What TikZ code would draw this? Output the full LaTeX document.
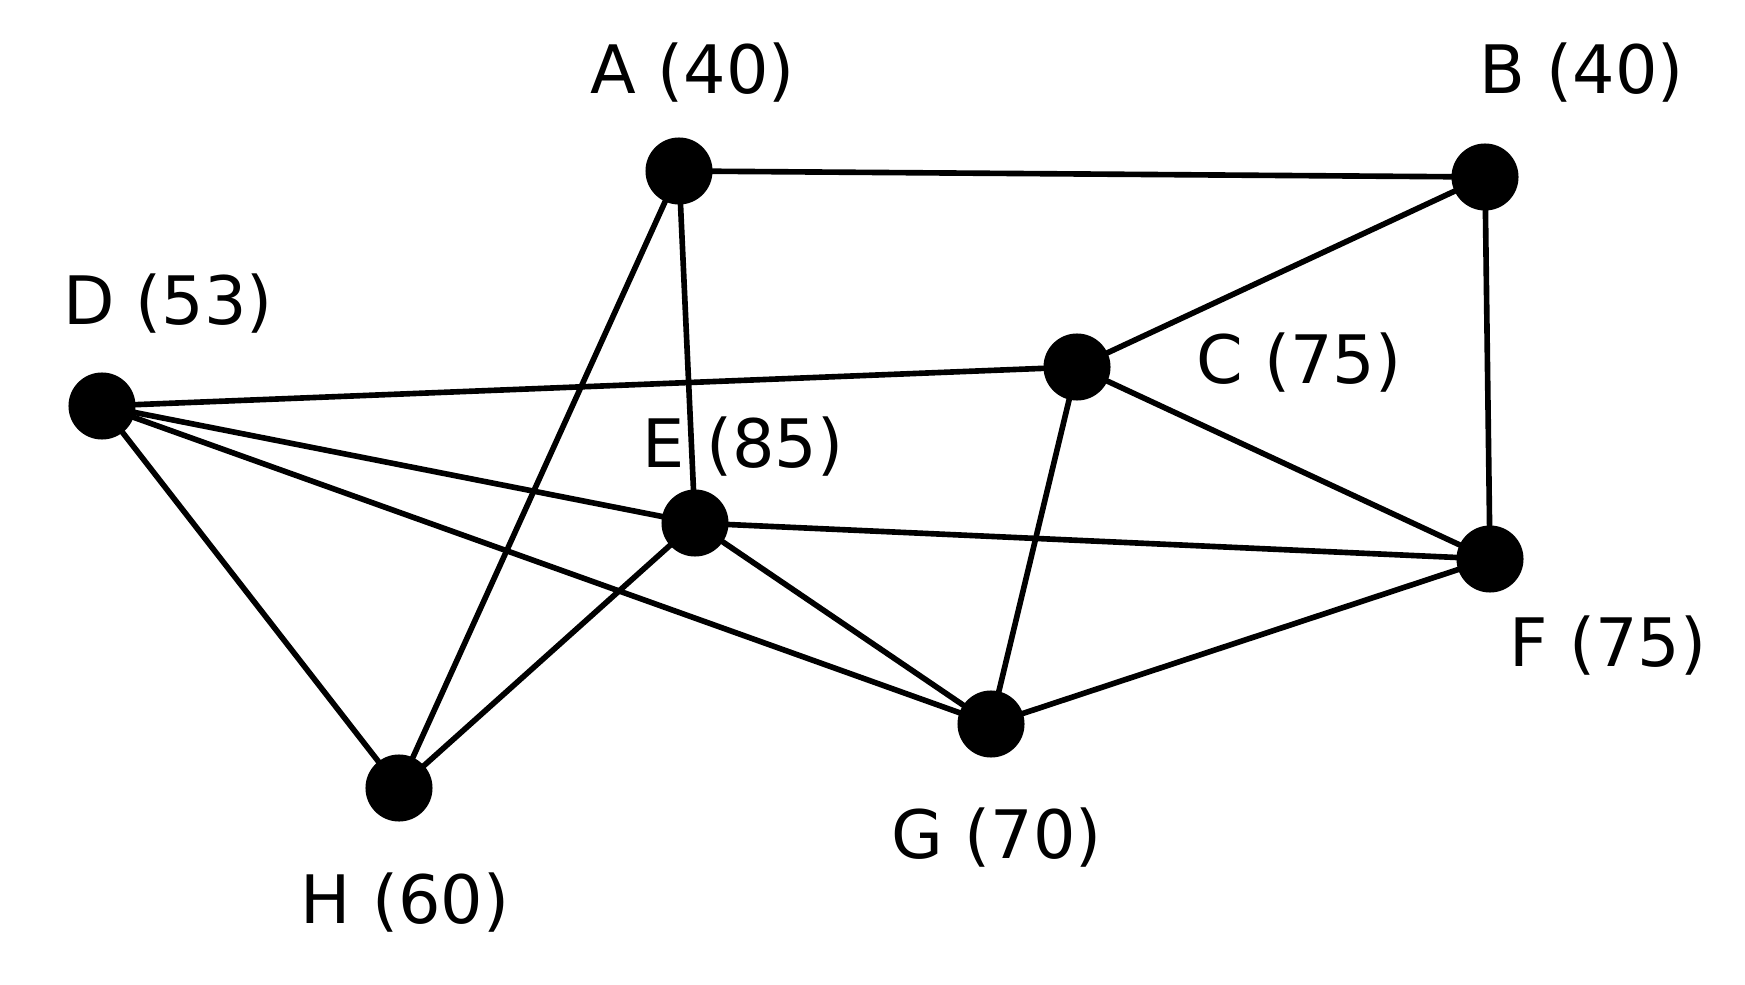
\documentclass[tikz,border=0pt]{standalone}
\usepackage{fontspec}
\setmainfont{DejaVu Sans}
\begin{document}
\begin{tikzpicture}[x=0.01cm,y=-0.01cm,
  vert/.style={circle,fill=black,inner sep=0pt,minimum size=0.67cm},
  lab/.style={font=\fontsize{19}{22}\selectfont},
  edge/.style={line width=1.6pt}]
\useasboundingbox (0,0) rectangle (1745,985);
\node[vert] (A) at (679,171) {};
\node[vert] (B) at (1485,177) {};
\node[vert] (C) at (1077,367) {};
\node[vert] (D) at (102,406) {};
\node[vert] (E) at (695,523) {};
\node[vert] (F) at (1490,559) {};
\node[vert] (G) at (991,724) {};
\node[vert] (H) at (399,788) {};
\node[lab] (la) at (693,73) {A (40)};
\node[lab] (lb) at (1582,73) {B (40)};
\node[lab] (lc) at (1299,363) {C (75)};
\node[lab] (ld) at (168,304) {D (53)};
\node[lab] (le) at (743,447) {E (85)};
\node[lab] (lf) at (1608,646) {F (75)};
\node[lab] (lg) at (997,838) {G (70)};
\node[lab] (lh) at (405,903) {H (60)};
\foreach \u/\v in {A/B,A/E,A/H,B/C,B/F,C/D,C/F,C/G,D/E,D/G,D/H,E/F,E/G,E/H,F/G}
  \draw[edge] (\u.center) -- (\v.center);
\end{tikzpicture}
\end{document}
